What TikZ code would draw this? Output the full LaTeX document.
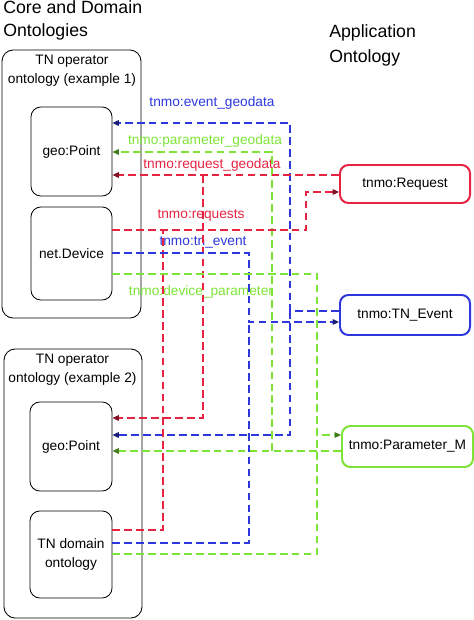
\documentclass[tikz,border=0pt]{standalone}
\usepackage{fontspec}
\setmainfont{Liberation Sans}
\usetikzlibrary{arrows.meta}

\definecolor{evblue}{RGB}{45,55,220}
\definecolor{reqred}{RGB}{230,35,65}
\definecolor{pargreen}{RGB}{125,228,55}

\tikzset{
  opbox/.style={draw=black, rounded corners=8pt, line width=0.6pt},
  onto/.style={draw=black, rounded corners=7pt, line width=0.6pt},
  appbox/.style={draw=#1, rounded corners=6pt, line width=1.4pt},
  link/.style={draw=#1, line width=0.75pt, dash pattern=on 5.5pt off 3pt,
    -{Triangle[length=4.5pt,width=4pt,color=#1!55!black]}},
  feed/.style={draw=#1, line width=0.75pt, dash pattern=on 5.5pt off 3pt},
  lbl/.style={text=#1, inner sep=0pt},
  head/.style={anchor=base west, inner sep=0pt, font=\fontsize{12.6}{16}\selectfont},
}

\begin{document}
\begin{tikzpicture}[x=0.025cm, y=-0.025cm,
    every node/.style={font=\fontsize{9.75}{13.5}\selectfont}]
  \useasboundingbox (0,0) rectangle (474,620);

  % headings
  \node[head] (core) at (3,13) {Core and Domain};
  \node[head] (coreb) at (3,36) {Ontologies};
  \node[head] (appl) at (329,37) {Application};
  \node[head] (applb) at (329,62) {Ontology};

  % core and domain side
  \node[opbox, minimum width=3.475cm, minimum height=6.7cm] (opA) at (71.5,184) {};
  \node[align=center] (opAt) at (72,71) {TN operator\\ontology (example 1)};
  \node[onto, minimum width=2.025cm, minimum height=2.225cm] (geoA) at (71.5,151.5) {geo:Point};
  \node[onto, minimum width=2.025cm, minimum height=2.325cm] (dev) at (71.5,253.5) {net.Device};

  \node[opbox, minimum width=3.45cm, minimum height=6.725cm] (opB) at (73,483.5) {};
  \node[align=center] (opBt) at (72.5,369.5) {TN operator\\ontology (example 2)};
  \node[onto, minimum width=2.05cm, minimum height=2.225cm] (geoB) at (71,446.5) {geo:Point};
  \node[onto, minimum width=2.05cm, minimum height=2.175cm, align=center] (dom) at (71,554.5) {TN domain\\ontology};

  % application side
  \node[appbox=reqred, minimum width=3.25cm, minimum height=0.95cm] (req) at (405,184) {tnmo:Request};
  \node[appbox=evblue, minimum width=3.25cm, minimum height=1cm] (evt) at (405,315) {tnmo:TN\_Event};
  \node[appbox=pargreen, minimum width=3.275cm, minimum height=1.025cm] (par) at (407.5,446.5) {tnmo:Parameter\_M};

  % property labels
  \node[lbl=evblue] (lEvGeo) at (212,103) {tnmo:event\_geodata};
  \node[lbl=pargreen] (lParGeo) at (205,141) {tnmo:parameter\_geodata};
  \node[lbl=reqred] (lReqGeo) at (212,165) {tnmo:request\_geodata};
  \node[lbl=reqred] (lReq) at (201,215) {tnmo:requests};
  \node[lbl=evblue] (lTnEv) at (203,242) {tnmo:tn\_event};
  \node[lbl=pargreen] (lDevPar) at (201,292) {tnmo:device\_parameter};

  % tnmo:event_geodata
  \draw[link=evblue] (evt.west |- 0,311) -| (290,123) -- (geoA.east |- 0,123);
  \draw[link=evblue] (290,311) |- (geoB.east |- 0,435);
  % tnmo:parameter_geodata
  \draw[link=pargreen] (par.west |- 0,451) -- (geoB.east |- 0,451);
  \draw[link=pargreen] (272,451) |- (geoA.east |- 0,152);
  % tnmo:request_geodata
  \draw[link=reqred] (req.west |- 0,175) -- (geoA.east |- 0,175);
  \draw[link=reqred] (203,175) |- (geoB.east |- 0,418);
  % tnmo:requests
  \draw[link=reqred] (dev.east |- 0,230) -| (306,192) -- (req.west |- 0,192);
  \draw[feed=reqred] (dom.east |- 0,530) -| (163,230);
  % tnmo:tn_event
  \draw[link=evblue] (dev.east |- 0,253) -| (249,322) -- (evt.west |- 0,322);
  \draw[feed=evblue] (dom.east |- 0,543) -| (249,322);
  % tnmo:device_parameter
  \draw[link=pargreen] (dev.east |- 0,274) -| (317,435) -- (par.west |- 0,435);
  \draw[feed=pargreen] (dom.east |- 0,554) -| (317,435);
\end{tikzpicture}
\end{document}
